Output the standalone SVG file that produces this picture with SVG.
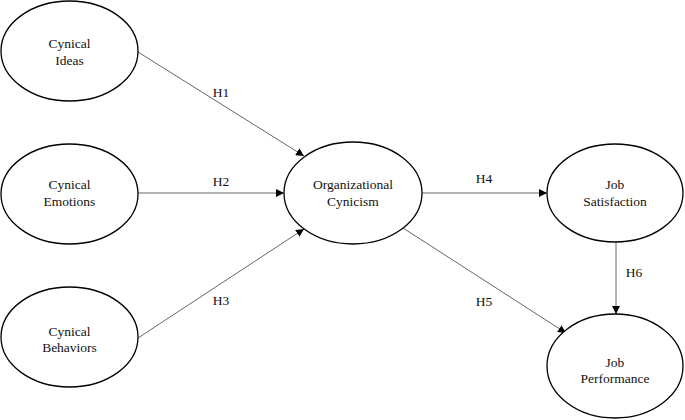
<svg xmlns="http://www.w3.org/2000/svg" width="685" height="420" viewBox="0 0 685 420">
<style>
.node ellipse{fill:#fff;stroke:#000;stroke-width:1.3}
.node text{font-size:13.5px;fill:#111;text-anchor:middle}
.lbl{font-size:13.5px;fill:#111;text-anchor:middle}
.edge{stroke:#555;stroke-width:0.9;fill:none;marker-end:url(#ah)}
</style>
<defs>
<marker id="ah" viewBox="0 0 10 10" refX="10" refY="5" markerWidth="8" markerHeight="8" markerUnits="userSpaceOnUse" orient="auto">
<path d="M0,0 L10,5 L0,10 z" fill="#000"/>
</marker>
</defs>
<rect width="685" height="420" fill="#fff"/>
<g font-family="'Liberation Serif', 'Times New Roman', 'DejaVu Serif', serif">
<g id="connectors">
<line class="edge" x1="138" y1="52" x2="304" y2="156"/>
<line class="edge" x1="138" y1="193" x2="284" y2="193"/>
<line class="edge" x1="138" y1="338" x2="304" y2="229"/>
<line class="edge" x1="422" y1="193" x2="547" y2="193"/>
<line class="edge" x1="403" y1="228" x2="566" y2="333"/>
<line class="edge" x1="616" y1="242" x2="616" y2="314"/>
<text class="lbl" x="221" y="97">H1</text>
<text class="lbl" x="221" y="186">H2</text>
<text class="lbl" x="221" y="305">H3</text>
<text class="lbl" x="484" y="183">H4</text>
<text class="lbl" x="484" y="306">H5</text>
<text class="lbl" x="634" y="277">H6</text>
</g>
<g id="cynical-ideas" class="node">
<ellipse cx="69.5" cy="51" rx="68.5" ry="50"/>
<text x="69.5" y="48">Cynical</text>
<text x="69.5" y="65">Ideas</text>
</g>
<g id="cynical-emotions" class="node">
<ellipse cx="69.5" cy="194" rx="68.5" ry="50"/>
<text x="69.5" y="189">Cynical</text>
<text x="69.5" y="206">Emotions</text>
</g>
<g id="cynical-behaviors" class="node">
<ellipse cx="69.5" cy="337" rx="68.5" ry="50"/>
<text x="69.5" y="336">Cynical</text>
<text x="69.5" y="352">Behaviors</text>
</g>
<g id="organizational-cynicism" class="node">
<ellipse cx="353" cy="193" rx="69" ry="51"/>
<text x="353" y="189">Organizational</text>
<text x="353" y="206">Cynicism</text>
</g>
<g id="job-satisfaction" class="node">
<ellipse cx="615" cy="193" rx="68" ry="49"/>
<text x="615" y="189">Job</text>
<text x="615" y="206">Satisfaction</text>
</g>
<g id="job-performance" class="node">
<ellipse cx="615" cy="366" rx="68" ry="52"/>
<text x="615" y="367">Job</text>
<text x="615" y="383">Performance</text>
</g>
</g>
</svg>
